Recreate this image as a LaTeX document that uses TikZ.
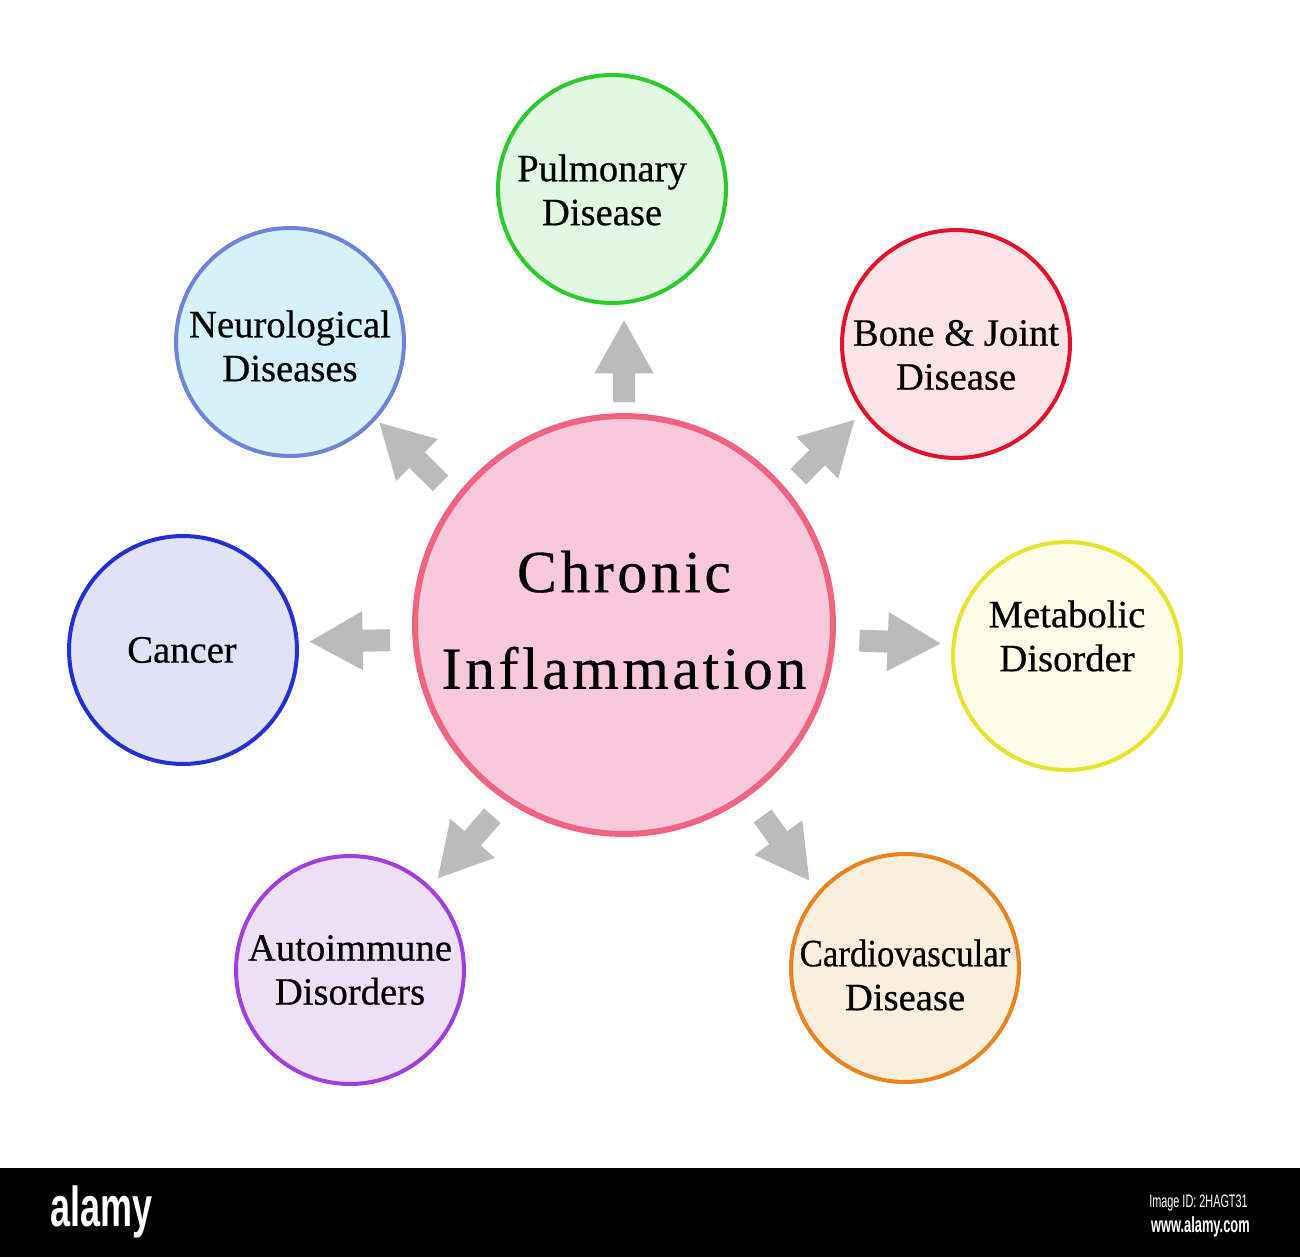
\documentclass[tikz,border=0pt]{standalone}
\usepackage{fontspec}
\usepackage{graphicx}
\setmainfont[FakeBold = 0.5]{Liberation Serif}
\newfontfamily\bannerfont{Liberation Sans}
\usetikzlibrary{arrows.meta}

\begin{document}
\begin{tikzpicture}[x = 0.02cm, y = -0.02cm,
						disease/.style 2 args = {circle, draw = #1, fill = #2, line width = 0.08cm,
							minimum size = 4.56cm, inner sep = 0pt},
						label text/.style = {align = center, font = \fontsize{22}{25}\selectfont},
						spread/.style = {draw = arrowgray, line width = 0.44cm,
							-{Triangle[width = 1.1cm, length = 1.08cm]},
							shorten <= 0.4cm, shorten >= 0.2cm},
						]
	
		\definecolor{arrowgray}{HTML}{BBBBBB}
		\definecolor{centerBorder}{HTML}{F06482}
		\definecolor{centerFill}{HTML}{F9C8DC}
		\definecolor{pulmonaryBorder}{HTML}{2BCB2B}
		\definecolor{pulmonaryFill}{HTML}{E2F8E2}
		\definecolor{boneBorder}{HTML}{E3122D}
		\definecolor{boneFill}{HTML}{FDE4E8}
		\definecolor{metabolicBorder}{HTML}{E5E52E}
		\definecolor{metabolicFill}{HTML}{FCFCE8}
		\definecolor{cardioBorder}{HTML}{E9841F}
		\definecolor{cardioFill}{HTML}{FAEEDD}
		\definecolor{autoimmuneBorder}{HTML}{A23DE0}
		\definecolor{autoimmuneFill}{HTML}{EEDFF5}
		\definecolor{cancerBorder}{HTML}{2231D6}
		\definecolor{cancerFill}{HTML}{E1E2F5}
		\definecolor{neuroBorder}{HTML}{6E82DE}
		\definecolor{neuroFill}{HTML}{D7F1F8}
		
		% Page
		\useasboundingbox (0, 0) rectangle (1300, 1257);
		\fill[white] (0, 0) rectangle (1300, 1168);
		
		% Center circle
		\node[circle, draw = centerBorder, fill = centerFill, line width = 0.12cm,
			minimum size = 8.36cm, inner sep = 0pt] (chronic) at (624, 625) {};
		\node[align = center, font = \fontsize{34}{55}\selectfont\addfontfeatures{LetterSpace = 6}]
			(chronicText) at (624, 620) {Chronic\\Inflammation};
		
		% Outer circles
		\node[disease = {pulmonaryBorder}{pulmonaryFill}] (pulmonary) at (612, 189) {};
		\node[disease = {boneBorder}{boneFill}] (bone) at (956, 344) {};
		\node[disease = {metabolicBorder}{metabolicFill}] (metabolic) at (1067, 656) {};
		\node[disease = {cardioBorder}{cardioFill}] (cardio) at (905, 968) {};
		\node[disease = {autoimmuneBorder}{autoimmuneFill}] (autoimmune) at (350, 970) {};
		\node[disease = {cancerBorder}{cancerFill}] (cancer) at (183, 650) {};
		\node[disease = {neuroBorder}{neuroFill}] (neuro) at (290, 342) {};
		
		% Circle labels
		\node[label text] (pulmonaryText) at (602, 190) {Pulmonary\\Disease};
		\node[label text] (boneText) at (956, 355) {Bone \& Joint\\Disease};
		\node[label text] (metabolicText) at (1067, 636) {Metabolic\\Disorder};
		\node[label text] (cardioText) at (905, 975) {\scalebox{0.9}[1]{Cardiovascular}\\Disease};
		\node[label text] (autoimmuneText) at (350, 970) {Autoimmune\\Disorders};
		\node[label text] (cancerText) at (182, 650) {Cancer};
		\node[label text] (neuroText) at (290, 346) {Neurological\\Diseases};
		
		% Arrows from the center
		\draw[spread, shorten <= 0.22cm, shorten >= 0.3cm] (chronic.90) -- (pulmonary.276);
		\draw[spread, shorten <= 0.34cm] (chronic.40) -- (bone.216);
		\draw[spread, shorten <= 0.48cm] (chronic.356) -- (metabolic.174);
		\draw[spread, shorten <= 0.48cm, shorten >= 0.26cm] (chronic.306) -- (cardio.139);
		\draw[spread] (chronic.236) -- (autoimmune.46);
		\draw[spread, shorten <= 0.45cm] (chronic.184) -- (cancer.4);
		\draw[spread, shorten >= 0.07cm] (chronic.143) -- (neuro.318);
		
		% Banner
		\fill[black] (0, 1168) rectangle (1300, 1257);
		\node[white, anchor = base west, inner sep = 0pt] (bannerLogo) at (50, 1226)
			{\bannerfont\bfseries\fontsize{32}{32}\selectfont\scalebox{0.64}[1]{alamy}};
		\node[white, anchor = base east, inner sep = 0pt] (bannerId) at (1248, 1207)
			{\bannerfont\fontsize{10.3}{12}\selectfont\scalebox{0.6}[1]{Image ID: 2HAGT31}};
		\node[white, anchor = base east, inner sep = 0pt] (bannerSite) at (1250, 1232)
			{\bannerfont\bfseries\fontsize{12.5}{14}\selectfont\scalebox{0.585}[1]{www.alamy.com}};
		
	\end{tikzpicture}
\end{document}
